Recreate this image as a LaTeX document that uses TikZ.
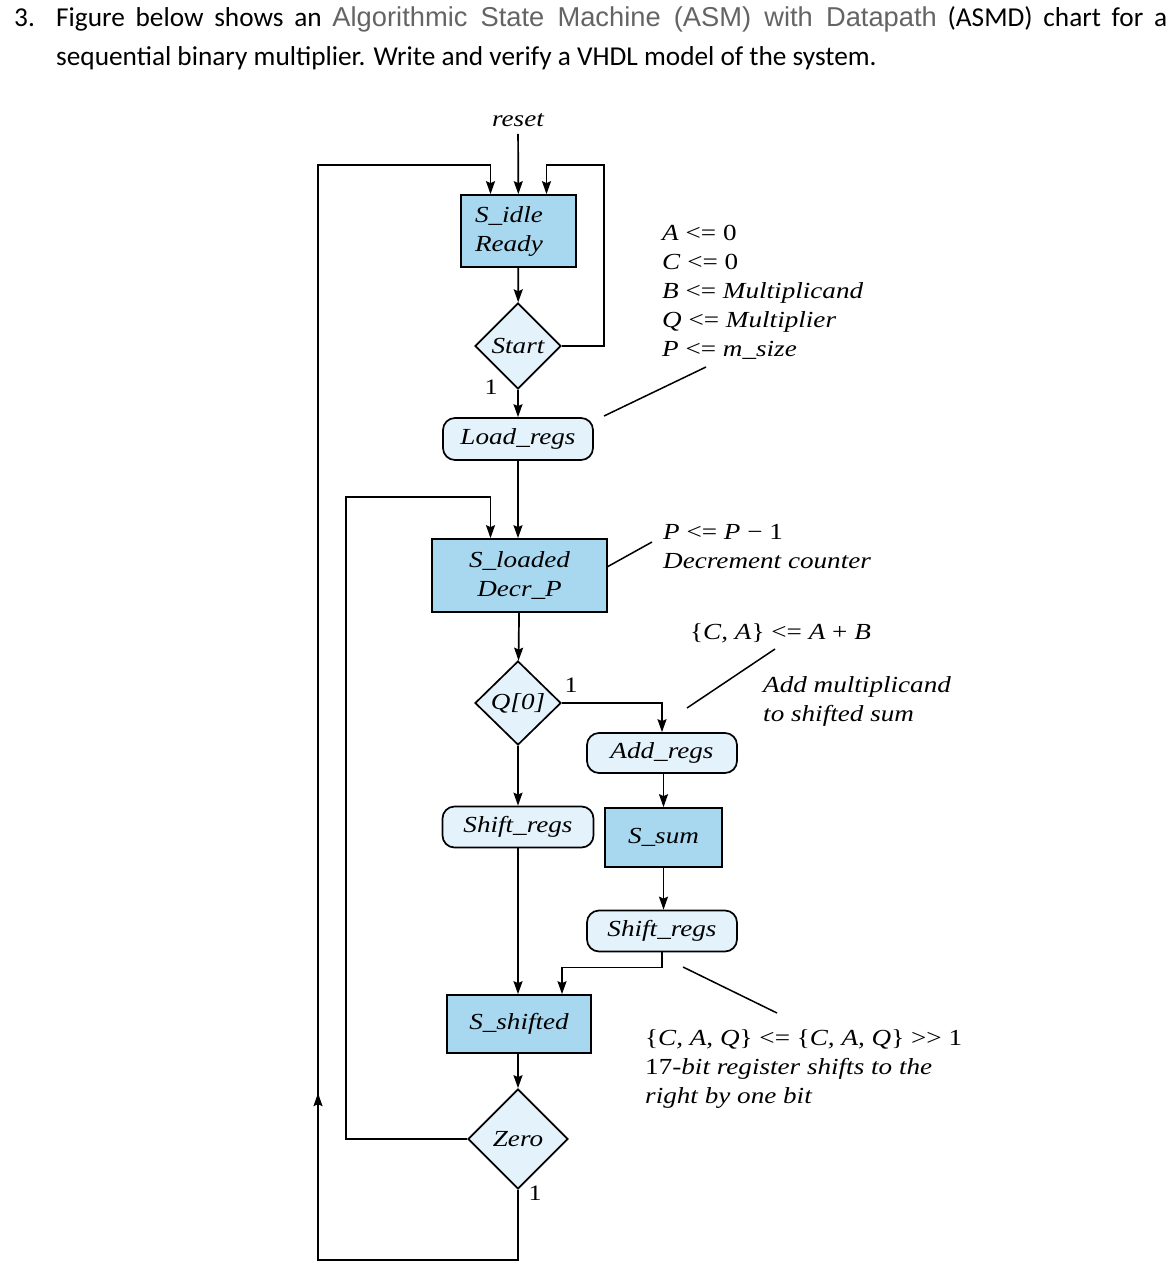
\documentclass[tikz,border=0pt]{standalone}
\usepackage{fontspec}
\usepackage{tikz}
\usetikzlibrary{
    shapes.geometric,
    arrows.meta,
    decorations.markings
}

\newfontfamily\asmfont{Liberation Serif}[FakeStretch=1.18]
\newfontfamily\headfont{Carlito}
\newfontfamily\greyfont{Liberation Sans}

\definecolor{statefill}{RGB}{168,216,240}
\definecolor{opfill}{RGB}{227,242,251}
\definecolor{headgrey}{RGB}{100,100,100}

\tikzset{
    wire/.style={line width=1.7pt},
    flow/.style={wire, -{Stealth[length=13pt, width=9pt, inset=2pt]}},
    stbox/.style={draw, wire, fill=statefill, inner sep=0pt, align=center,
        font=\asmfont\itshape\fontsize{23}{29}\selectfont},
    opbox/.style={draw, wire, fill=opfill, rounded corners=12pt, inner sep=0pt,
        font=\asmfont\itshape\fontsize{23}{29}\selectfont},
    decbox/.style={draw, wire, diamond, aspect=1, fill=opfill, inner sep=0pt,
        font=\asmfont\itshape\fontsize{23}{29}\selectfont},
    annot/.style={anchor=north west, align=left, inner sep=0pt,
        font=\asmfont\itshape\fontsize{23}{29}\selectfont},
    onelab/.style={inner sep=0pt, font=\asmfont\fontsize{22}{26}\selectfont},
    lead/.style={line width=1.5pt},
    headline/.style={anchor=base west, inner sep=0pt, font=\headfont\fontsize{27.3}{38}\selectfont}
}

\begin{document}
\begin{tikzpicture}[x=1pt, y=-1pt]
    \useasboundingbox (0,0) rectangle (1172,1274);

    % question text
    \node[headline] (num) at (14,26) {3.};
    \node[headline] (title1) at (56,26)
        {\makebox[1111pt][s]{Figure below shows an {\greyfont\color{headgrey}Algorithmic State Machine (ASM) with Datapath} (ASMD) chart for a}};
    \node[headline] (title2) at (56,65)
        {sequential binary multiplier. Write and verify a VHDL model of the system.};

    % chart
    \node[inner sep=3pt, font=\asmfont\itshape\fontsize{23}{29}\selectfont] (reset) at (518,120) {reset};
    \node[stbox, minimum width=115pt, minimum height=72pt, text width=87pt, align=left] (sidle) at (518.5,231) {S\_idle\\Ready};
    \node[decbox, minimum width=86pt, minimum height=86pt] (start) at (518,346) {Start};
    \node[opbox, minimum width=150pt, minimum height=42pt] (loadregs) at (518,439) {Load\_regs};
    \node[stbox, minimum width=175pt, minimum height=73pt] (sloaded) at (519.5,575.5) {S\_loaded\\Decr\_P};
    \node[decbox, minimum width=86pt, minimum height=84pt] (qzero) at (518,703) {Q[0]};
    \node[opbox, minimum width=150pt, minimum height=40pt] (addregs) at (662,753) {Add\_regs};
    \node[stbox, minimum width=117pt, minimum height=59pt] (ssum) at (663.5,837.5) {S\_sum};
    \node[opbox, minimum width=151pt, minimum height=41pt] (shiftA) at (518,827) {Shift\_regs};
    \node[opbox, minimum width=150pt, minimum height=41pt] (shiftB) at (662,931) {Shift\_regs};
    \node[stbox, minimum width=144pt, minimum height=58pt] (sshifted) at (519,1024) {S\_shifted};
    \node[decbox, minimum width=100pt, minimum height=100pt] (zero) at (518,1139) {Zero};

    \node[onelab] (oneStart) at (491,387) {1};
    \node[onelab] (oneQ) at (571,685) {1};
    \node[onelab] (oneZero) at (535,1193) {1};

    \coordinate (idleL) at ([xshift=-28pt]sidle.north);
    \coordinate (idleR) at ([xshift=28pt]sidle.north);
    \coordinate (loadedL) at ([xshift=-29pt]sloaded.north);
    \coordinate (shiftedR) at ([xshift=43pt]sshifted.north);
    \coordinate (loopR) at (604,165);
    \coordinate (loopBL) at (318,1260);
    \coordinate (loopTL) at (318,165);
    \coordinate (innerT) at (346,497);

    \draw[flow, shorten <=4pt] (reset) -- (sidle);
    \draw[flow] (sidle) -- (start);
    \draw[flow] (start) -- (loadregs);
    \draw[flow] (start.east) -| (loopR) -| (idleR);
    \draw[flow, postaction={decorate, decoration={markings,
        mark=at position 437pt with {\arrow{Stealth[length=13pt, width=9pt, inset=2pt]}}}}]
        (zero.south) |- (loopBL) -- (loopTL) -| (idleL);
    \draw[flow] (loadregs) -- (sloaded.north -| loadregs);
    \draw[flow] (zero.west) -| (innerT) -| (loadedL);
    \draw[flow] (sloaded) -- (qzero);
    \draw[flow] (qzero.east) -| (addregs.north);
    \draw[flow] (qzero) -- (shiftA);
    \draw[flow] (addregs.south -| ssum) -- (ssum);
    \draw[flow] (ssum) -- (shiftB.north -| ssum);
    \draw[flow] (shiftA) -- (sshifted.north -| shiftA);
    \draw[flow] (shiftB.south) -- ++(0,15) -| (shiftedR);
    \draw[flow] (sshifted.south -| zero) -- (zero);

    % register transfers
    \node[annot] (loadnote) at (662,225)
        {A \textup{<= 0}\\C \textup{<= 0}\\B \textup{<=} Multiplicand\\Q \textup{<=} Multiplier\\P \textup{<=} m\_size};
    \node[annot] (decrnote) at (663,524) {P \textup{<=} P \textup{− 1}\\Decrement counter};
    \node[annot] (addeq) at (690,623) {\textup{\{}C, A\textup{\} <=} A \textup{+} B};
    \node[annot] (addnote) at (763,676) {Add multiplicand\\to shifted sum};
    \node[annot] (shiftnote) at (645,1029)
        {\textup{\{}C, A, Q\textup{\} <= \{}C, A, Q\textup{\} >> 1}\\\textup{17-}bit register shifts to the\\right by one bit};

    \draw[lead] (604,416) -- (706,367);
    \draw[lead] (607,567) -- (652,542);
    \draw[lead] (687,708) -- (775,649);
    \draw[lead] (683,967) -- (777,1013);
\end{tikzpicture}
\end{document}
